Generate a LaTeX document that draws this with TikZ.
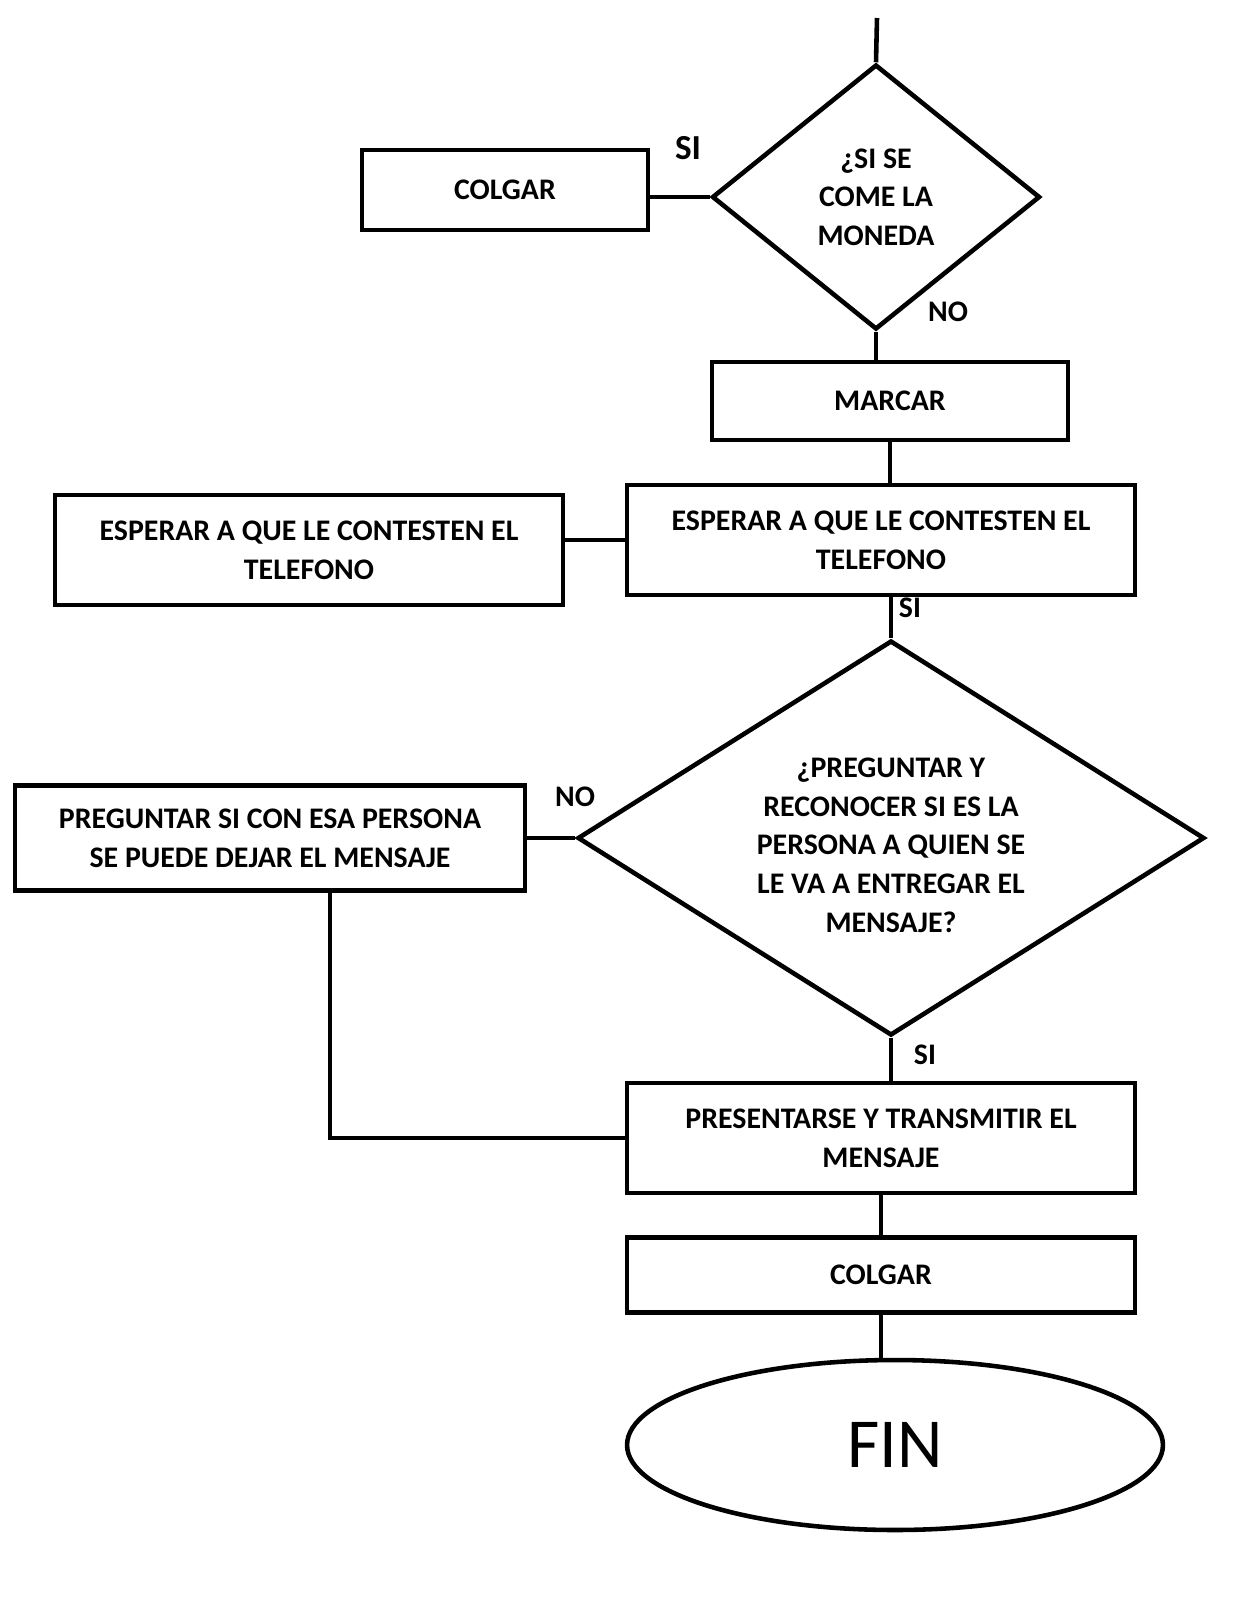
\documentclass[tikz,border=0pt]{standalone}
\usepackage{fontspec}
\setmainfont{Carlito}
\usetikzlibrary{shapes.geometric}
\begin{document}
\begin{tikzpicture}[x=0.02cm,y=-0.02cm,line width=2.6pt,
  box/.style={draw,rectangle,align=center,font=\bfseries\fontsize{17}{22}\selectfont,inner sep=2pt},
  dia/.style={draw,diamond,inner sep=0pt},
  lbl/.style={font=\bfseries\fontsize{17}{22}\selectfont},
  txt/.style={align=center,font=\bfseries\fontsize{17}{22}\selectfont}]
\useasboundingbox (0,0) rectangle (1247,1600);
\node[box,minimum width=5.72cm,minimum height=1.6cm] (col1) at (505,190) {COLGAR};
\node[dia,minimum width=6.56cm,minimum height=5.3cm] (d1) at (876,197) {};
\node[txt] (t1) at (876,197) {¿SI SE\\COME LA\\MONEDA};
\node[box,minimum width=7.12cm,minimum height=1.56cm] (mar) at (890,401) {MARCAR};
\node[box,minimum width=10.16cm,minimum height=2.2cm] (espR) at (881,540) {ESPERAR A QUE LE CONTESTEN EL\\TELEFONO};
\node[box,minimum width=10.16cm,minimum height=2.2cm] (espL) at (309,550) {ESPERAR A QUE LE CONTESTEN EL\\TELEFONO};
\node[dia,minimum width=12.54cm,minimum height=7.9cm] (d2) at (891,838) {};
\node[txt] (t2) at (891,845) {¿PREGUNTAR Y\\RECONOCER SI ES LA\\PERSONA A QUIEN SE\\LE VA A ENTREGAR EL\\MENSAJE?};
\node[box,minimum width=10.2cm,minimum height=2.1cm] (preg) at (270,838) {PREGUNTAR SI CON ESA PERSONA\\SE PUEDE DEJAR EL MENSAJE};
\node[box,minimum width=10.16cm,minimum height=2.2cm] (pres) at (881,1138) {PRESENTARSE Y TRANSMITIR EL\\MENSAJE};
\node[box,minimum width=10.16cm,minimum height=1.5cm] (col2) at (881,1275) {COLGAR};
\node[draw,ellipse,minimum width=10.72cm,minimum height=3.4cm,font=\fontsize{40}{44}\selectfont] (fin) at (895,1445) {FIN};
\coordinate (top) at (877,18);
\coordinate (pb) at (330,890);
\draw (top) -- (d1.north);
\draw (d1.west) -- (d1.west-|col1.east);
\draw (d1.south) -- (d1.south|-mar.north);
\draw (mar.south) -- (mar.south|-espR.north);
\draw (espR.west) -- (espR.west-|espL.east);
\draw (d2.north|-espR.south) -- (d2.north);
\draw (d2.west) -- (preg.east|-d2.west);
\draw (pb) |- (pres.west);
\draw (d2.south) -- (d2.south|-pres.north);
\draw (pres.south) -- (col2.north);
\draw (col2.south) -- (col2.south|-fin.north);
\node[lbl,font=\bfseries\fontsize{20}{24}\selectfont] (s1) at (688,148) {SI};
\node[lbl] (n1) at (948,312) {NO};
\node[lbl] (s2) at (910,608) {SI};
\node[lbl] (n2) at (575,797) {NO};
\node[lbl] (s3) at (925,1055) {SI};
\end{tikzpicture}
\end{document}
